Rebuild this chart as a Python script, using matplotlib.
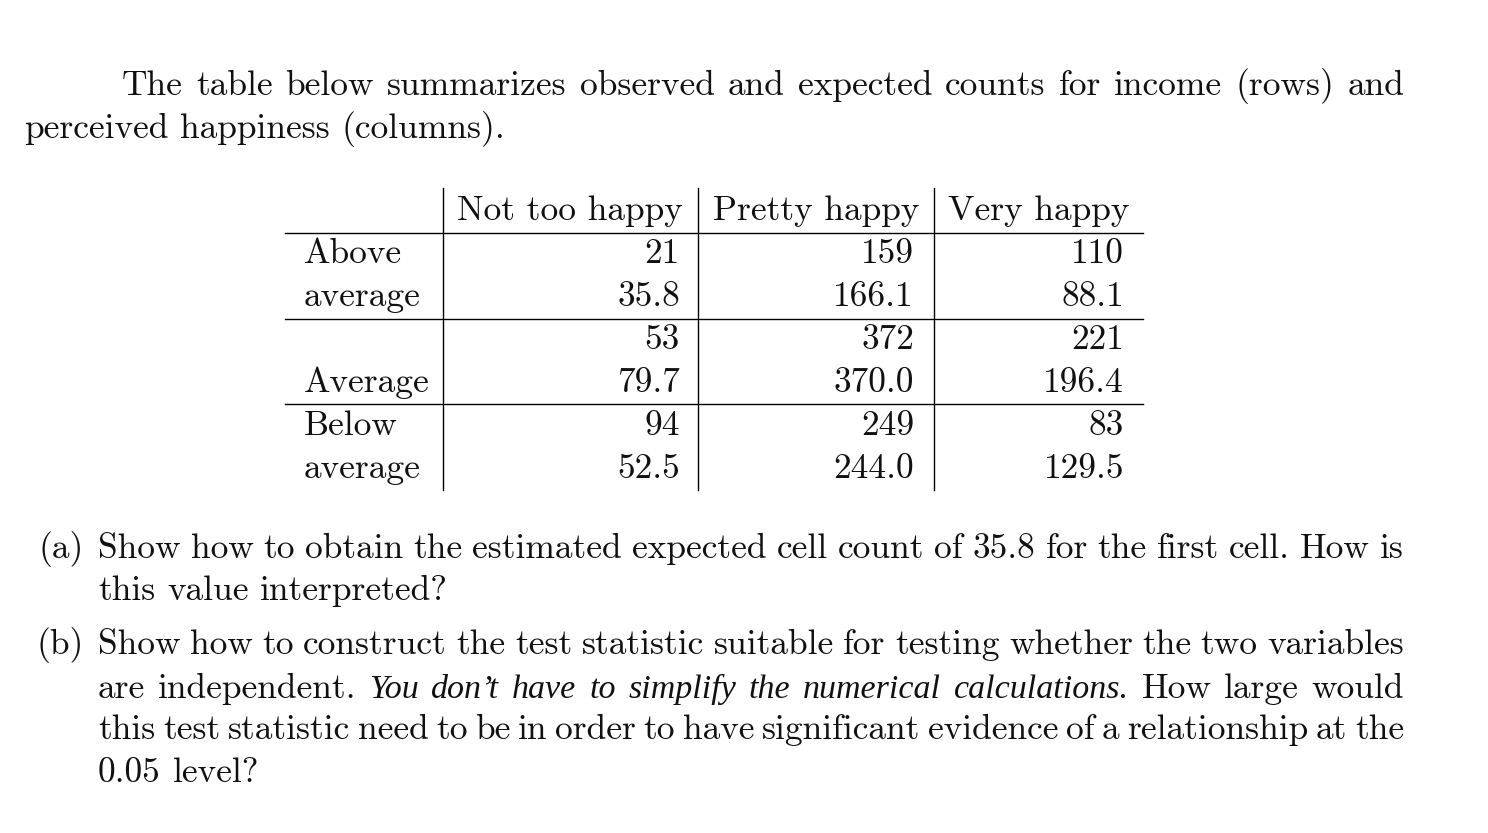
import matplotlib
matplotlib.use("Agg")
import matplotlib.pyplot as plt

col_labels = ["Not too happy", "Pretty happy", "Very happy"]
row_labels = [["Above", "average"], ["", "Average"], ["Below", "average"]]
observed = [[21, 159, 110], [53, 372, 221], [94, 249, 83]]
expected = [["35.8", "166.1", "88.1"], ["79.7", "370.0", "196.4"], ["52.5", "244.0", "129.5"]]

W, H = 1488, 833
fig = plt.figure(figsize=(W/100, H/100), dpi=100)
fig.patch.set_facecolor("white")
FS = 25.5
RM = "cmr10"
IT = "Liberation Serif"
plt.rcParams["axes.unicode_minus"] = False

def fx(x): return x / W
def fy(y): return 1 - y / H

def txt(x, y, s, ha="left", italic=False):
    kw = dict(fontsize=FS, ha=ha, va="baseline", color="#111111")
    if italic:
        kw.update(family=IT, style="italic", fontsize=FS*0.96)
    else:
        kw.update(family=RM)
    return fig.text(fx(x), fy(y), s, **kw)

renderer = fig.canvas.get_renderer()

def width(s, italic=False):
    t = txt(0, 0, s, italic=italic)
    w = t.get_window_extent(renderer).width
    t.remove()
    return w

def line(x0, x1, y, words, justify=True):
    ws = [width(w, it) for w, it in words]
    if justify and len(words) > 1:
        gap = (x1 - x0 - sum(ws)) / (len(words) - 1)
    else:
        gap = width("a b") - width("ab")
    x = x0
    for (w, it), wd in zip(words, ws):
        txt(x, y, w, italic=it)
        x += wd + gap

def R(s): return [(w, False) for w in s.split()]
def I(s): return [(w, True) for w in s.split()]

line(122, 1404, 95, R("The table below summarizes observed and expected counts for income (rows) and"))
line(24, 1404, 138, R("perceived happiness (columns)."), justify=False)

# table
lw = 1.0
def hline(y, x0=285, x1=1143):
    fig.add_artist(plt.Line2D([fx(x0), fx(x1)], [fy(y), fy(y)], color="black", lw=lw))
def vline(x, y0=188, y1=490):
    fig.add_artist(plt.Line2D([fx(x), fx(x)], [fy(y0), fy(y1)], color="black", lw=lw))
for x in (443, 698, 934):
    vline(x)
for y in (233, 319, 404):
    hline(y)

col_centers = [570, 816, 1039]
col_rights = [680, 914, 1124]
for c, lab in zip(col_centers, col_labels):
    txt(c, 220, lab, ha="center")
row_base = [263, 349, 435]
for i in range(3):
    b = row_base[i]
    txt(304, b, row_labels[i][0])
    txt(304, b + 43, row_labels[i][1])
    for j in range(3):
        txt(col_rights[j], b, str(observed[i][j]), ha="right")
        txt(col_rights[j], b + 43, expected[i][j], ha="right")

# questions
txt(38, 558, "(a)")
line(98, 1404, 558, R("Show how to obtain the estimated expected cell count of 35.8 for the first cell.  How is"))
line(98, 1404, 600, R("this value interpreted?"), justify=False)
txt(36, 654, "(b)")
line(98, 1404, 654, R("Show how to construct the test statistic suitable for testing whether the two variables"))
line(98, 1404, 698, R("are independent.") + I("You don’t have to simplify the numerical calculations.") + R("How large would"))
line(98, 1404, 739, R("this test statistic need to be in order to have significant evidence of a relationship at the"))
line(98, 1404, 782, R("0.05 level?"), justify=False)

fig.savefig("out.png", dpi=100, facecolor="white")
